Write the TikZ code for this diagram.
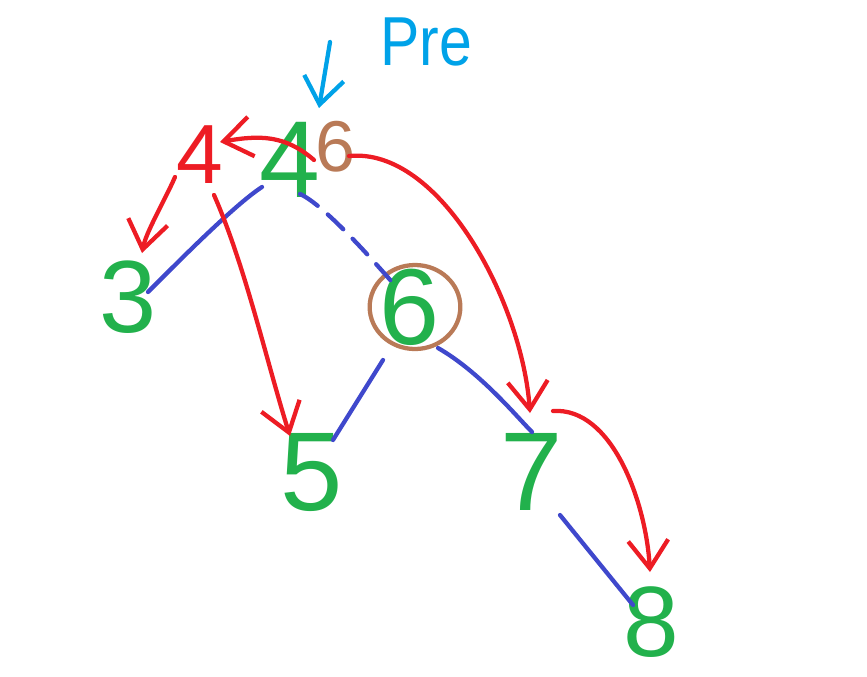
\documentclass[tikz,border=0pt]{standalone}
\usepackage{fontspec}
\setmainfont{Liberation Sans}
\usetikzlibrary{arrows.meta,shapes.geometric,calc}
\definecolor{pred}{HTML}{ED1C24}
\definecolor{pgreen}{HTML}{22B14C}
\definecolor{pblue}{HTML}{3F48CC}
\definecolor{plight}{HTML}{00A2E8}
\definecolor{pbrown}{HTML}{B97A57}
\tikzset{
  digit/.style={inner sep=0pt, text=pgreen},
  edgeline/.style={draw=pblue, line width=3.2pt, line cap=round},
  visit/.style={draw=pred, line width=3.2pt, line cap=round, line join=round,
    -{Straight Barb[length=21pt,width=30pt,line width=3.2pt]}},
  ring/.style={draw=pbrown, line width=3.2pt, ellipse, inner sep=0pt}
}
\newcommand{\fs}[1]{\fontsize{#1}{#1}\selectfont}
\begin{document}
\begin{tikzpicture}[x=0.75pt,y=-0.75pt]
\useasboundingbox (0,0) rectangle (867,676);
% nodes
\node[digit, text=plight, xscale=0.85] (pre) at (426,42) {\fs{52pt}Pre};
\coordinate (arrtop) at (330,42);
\coordinate (arrtip) at (319,108);
\node[digit] (g4) at (290,160) {\fs{82pt}4};
\node[digit, text=pbrown] (b6) at (336,147) {\fs{54pt}6};
\node[digit, text=pred] (r4) at (200,155) {\fs{63pt}4};
\node[digit] (g3) at (128,297) {\fs{77pt}3};
\node[digit] (g6) at (410,307) {\fs{81pt}6};
\node[ring, minimum width=68pt, minimum height=63pt] (c6) at (415,307) {};
\node[digit] (g5) at (312,473) {\fs{84pt}5};
\node[digit] (g7) at (532,472) {\fs{84pt}7};
\node[digit] (g8) at (651,622) {\fs{75pt}8};
% blue arrow
\draw[draw=plight, line width=3.2pt, line cap=round,
  -{Straight Barb[length=20pt,width=30pt,line width=3.2pt]}] (arrtop) -- (arrtip);
% tree edges
\draw[edgeline] ([shift={(-28,27)}]g4.center) .. controls ([shift={(-56,45)}]g4.center) and ([shift={(45,-30)}]g3.center) .. ([shift={(20,-5)}]g3.center);
\draw[edgeline, dash pattern=on 16pt off 10pt] ([shift={(10,34)}]g4.center) .. controls ([shift={(34,45)}]g4.center) and ([shift={(-40,-50)}]g6.center) .. ([shift={(-18,-25)}]g6.center);
\draw[edgeline] ([shift={(-27,53)}]g6.center) -- ([shift={(21,-33)}]g5.center);
\draw[edgeline] ([shift={(28,41)}]g6.center) .. controls ([shift={(70,65)}]g6.center) and ([shift={(-15,-55)}]g7.center) .. ([shift={(0,-40)}]g7.center);
\draw[edgeline] ([shift={(28,43)}]g7.center) -- ([shift={(-18,-17)}]g8.center);
% traversal arrows
\draw[visit] ([shift={(-22,13)}]b6.center) .. controls ([shift={(-51,-12)}]b6.center) and ([shift={(60,-20)}]r4.center) .. ([shift={(20,-13)}]r4.center);
\draw[visit] ([shift={(-25,22)}]r4.center) .. controls ([shift={(-35,45)}]r4.center) and ([shift={(18,-65)}]g3.center) .. ([shift={(14,-44)}]g3.center);
\draw[visit] ([shift={(14,40)}]r4.center) .. controls ([shift={(45,110)}]r4.center) and ([shift={(-45,-110)}]g5.center) .. ([shift={(-22,-37)}]g5.center);
\draw[visit] ([shift={(13,9)}]b6.center) .. controls ([shift={(104,0)}]b6.center) and ([shift={(-10,-170)}]g7.center) .. ([shift={(-2,-59)}]g7.center);
\draw[visit] ([shift={(21,-61)}]g7.center) .. controls ([shift={(80,-65)}]g7.center) and ([shift={(-5,-120)}]g8.center) .. ([shift={(-1,-50)}]g8.center);
\end{tikzpicture}
\end{document}
